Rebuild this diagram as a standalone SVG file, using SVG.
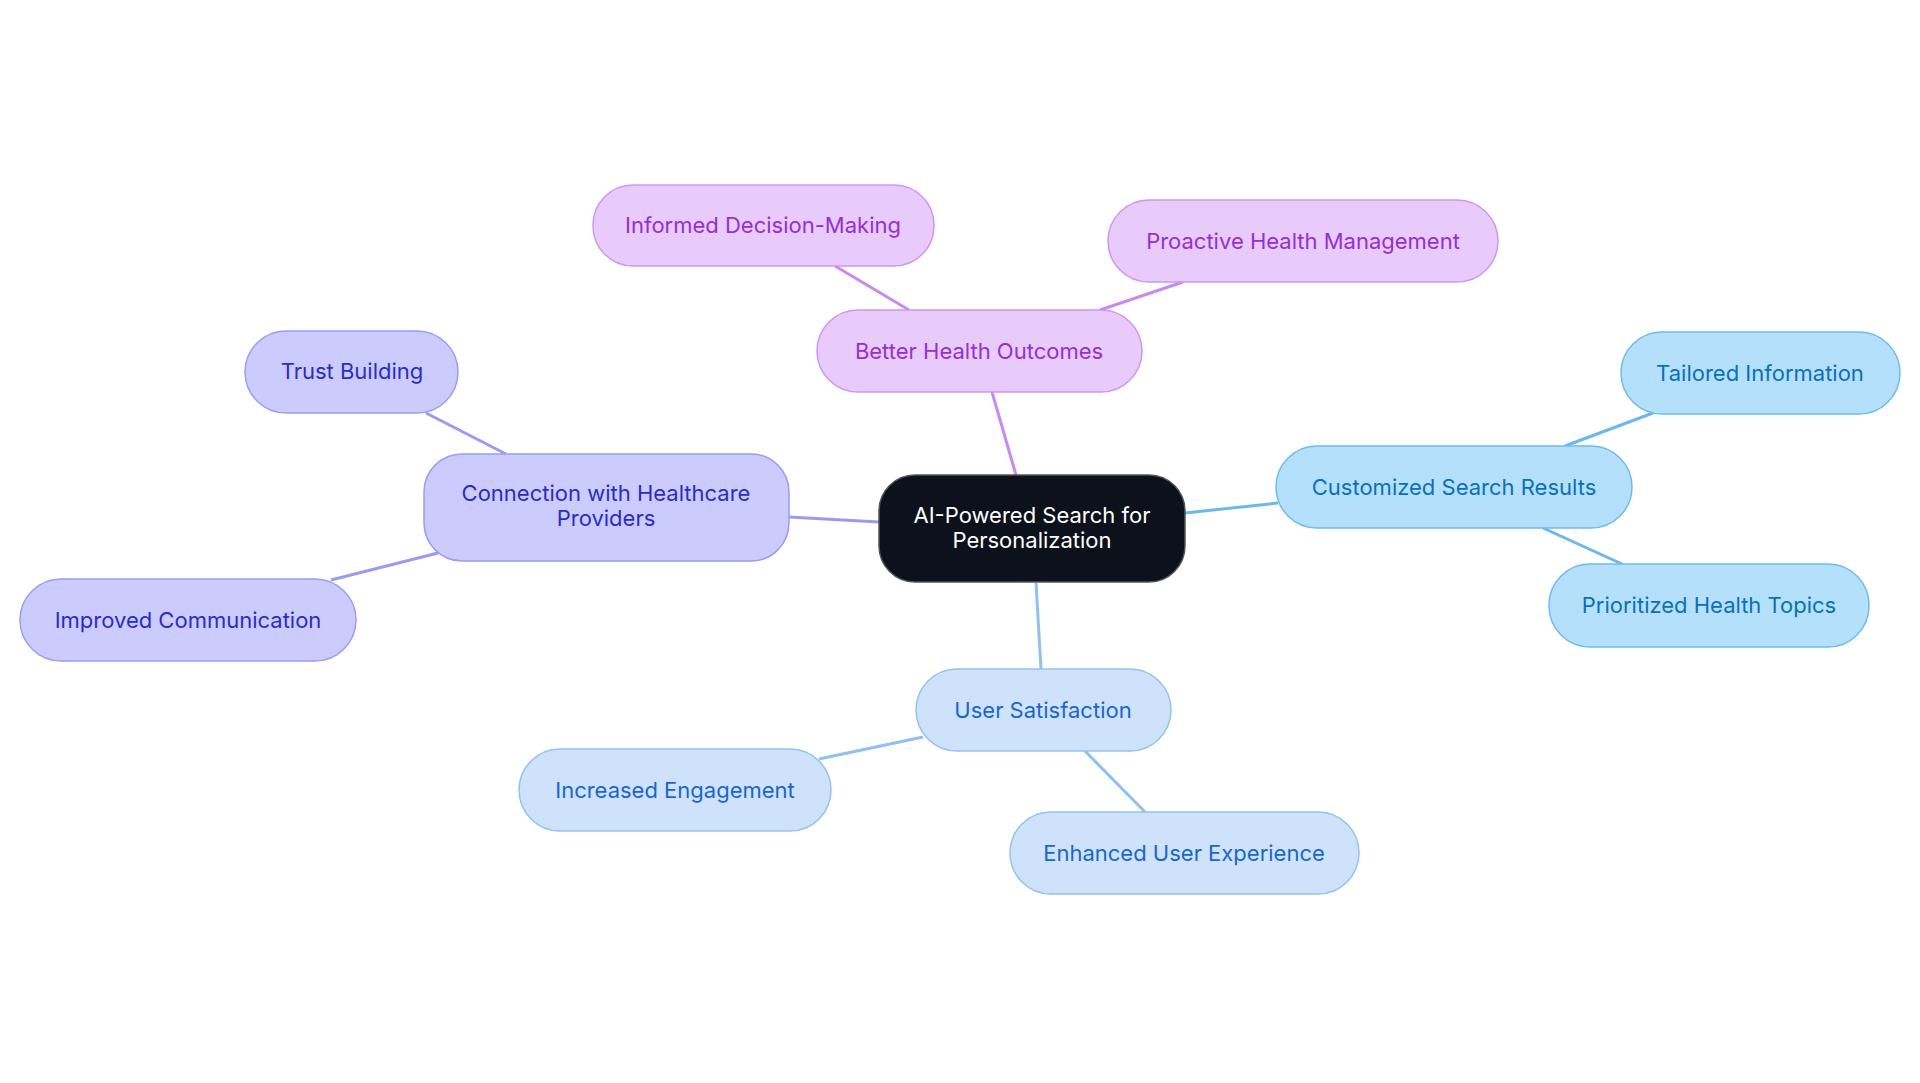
<svg xmlns="http://www.w3.org/2000/svg" width="1920" height="1083" viewBox="0 0 1920 1083">
<style>
text{font-family:Inter,"Liberation Sans",sans-serif;font-size:22px;text-anchor:middle;dominant-baseline:central}
.p rect{fill:#e8cafb;stroke:#cf95f2;stroke-width:1.5}.p text{fill:#9530d0}
.b rect{fill:#b5e0fc;stroke:#6fbaec;stroke-width:1.5}.b text{fill:#0a70b8}
.u rect{fill:#cee3fb;stroke:#93c1f0;stroke-width:1.5}.u text{fill:#1b66c9}
.i rect{fill:#cbcbfd;stroke:#9c9cf0;stroke-width:1.5}.i text{fill:#2b2cc4}
.c rect{fill:#0c111b;stroke:#555;stroke-width:1.5}.c text{fill:#fff}
#edges line{stroke-width:3}
</style>
<rect width="1920" height="1083" fill="#fff"/>
<g id="edges">
<line x1="1016" y1="475" x2="992" y2="392" stroke="#c98af0"/>
<line x1="909" y1="310" x2="835" y2="266" stroke="#c98af0"/>
<line x1="1100" y1="310" x2="1183" y2="282" stroke="#c98af0"/>
<line x1="1185" y1="513" x2="1278" y2="503" stroke="#6ab8ec"/>
<line x1="1565" y1="446" x2="1653" y2="413" stroke="#6ab8ec"/>
<line x1="1543" y1="528" x2="1622" y2="564" stroke="#6ab8ec"/>
<line x1="1036" y1="583" x2="1041" y2="669" stroke="#90c0f0"/>
<line x1="923" y1="737" x2="819" y2="759" stroke="#90c0f0"/>
<line x1="1085" y1="751" x2="1145" y2="812" stroke="#90c0f0"/>
<line x1="879" y1="522" x2="789" y2="517" stroke="#9a9bf0"/>
<line x1="506" y1="454" x2="426" y2="413" stroke="#9a9bf0"/>
<line x1="438" y1="553" x2="331" y2="580" stroke="#9a9bf0"/>
</g>
<g id="center" class="c"><rect x="879" y="475" width="306" height="107" rx="36"/><text x="1032" y="515">AI-Powered Search for</text><text x="1032" y="540">Personalization</text></g>
<g id="bho" class="p"><rect x="817" y="310" width="325" height="82" rx="41"/><text x="979" y="351">Better Health Outcomes</text></g>
<g id="idm" class="p"><rect x="593" y="185" width="341" height="81" rx="40"/><text x="763" y="225">Informed Decision-Making</text></g>
<g id="phm" class="p"><rect x="1108" y="200" width="390" height="82" rx="41"/><text x="1303" y="241">Proactive Health Management</text></g>
<g id="csr" class="b"><rect x="1276" y="446" width="356" height="82" rx="41"/><text x="1454" y="487">Customized Search Results</text></g>
<g id="ti" class="b"><rect x="1621" y="332" width="279" height="82" rx="41"/><text x="1760" y="373">Tailored Information</text></g>
<g id="pht" class="b"><rect x="1549" y="564" width="320" height="83" rx="41"/><text x="1709" y="605">Prioritized Health Topics</text></g>
<g id="us" class="u"><rect x="916" y="669" width="255" height="82" rx="41"/><text x="1043" y="710">User Satisfaction</text></g>
<g id="ie" class="u"><rect x="519" y="749" width="312" height="82" rx="41"/><text x="675" y="790">Increased Engagement</text></g>
<g id="eux" class="u"><rect x="1010" y="812" width="349" height="82" rx="41"/><text x="1184" y="853">Enhanced User Experience</text></g>
<g id="conn" class="i"><rect x="424" y="454" width="365" height="107" rx="38"/><text x="606" y="493">Connection with Healthcare</text><text x="606" y="518">Providers</text></g>
<g id="tb" class="i"><rect x="245" y="331" width="213" height="82" rx="41"/><text x="352" y="371">Trust Building</text></g>
<g id="ic" class="i"><rect x="20" y="579" width="336" height="82" rx="41"/><text x="188" y="620">Improved Communication</text></g>
</svg>
